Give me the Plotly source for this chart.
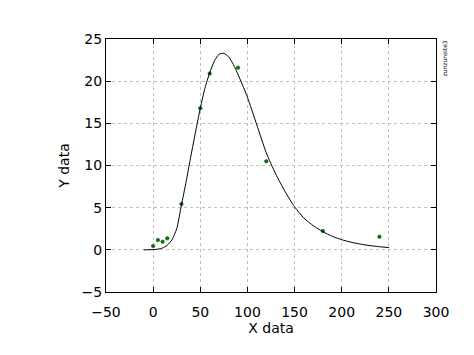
import plotly.graph_objects as go

# Scatter data
data_x = [0, 5, 10, 15, 30, 50, 60, 90, 120, 180, 240]
data_y = [0.45, 1.16, 0.96, 1.36, 5.43, 16.8, 20.9, 21.6, 10.5, 2.23, 1.55]

# Fitted curve
curve_x = [-10, 0, 5, 10, 15, 20, 25, 30, 35, 40, 45, 50, 55, 60, 65, 70, 75, 80, 85, 90, 95, 100,
           110, 120, 130, 140, 150, 160, 170, 180, 190, 200, 210, 220, 230, 240, 250]
curve_y = [0.0, 0.03, 0.08, 0.22, 0.55, 1.2, 2.5, 5.3, 8.1, 11.1, 14.0, 16.8, 19.2, 21.0, 22.4, 23.2, 23.3,
           22.9, 22.0, 20.8, 19.5, 18.1, 14.8, 11.5, 9.0, 6.9, 5.1, 3.75, 2.85, 2.15, 1.6, 1.2, 0.9, 0.68,
           0.5, 0.37, 0.27]

x_ticks = [-50, 0, 50, 100, 150, 200, 250, 300]
y_ticks = [-5, 0, 5, 10, 15, 20, 25]

fig = go.Figure()
fig.add_trace(go.Scatter(x=data_x, y=data_y, mode="markers",
                         marker=dict(color="#008000", size=3.5, line=dict(color="#003000", width=0.5)),
                         showlegend=False, hoverinfo="skip"))
fig.add_trace(go.Scatter(x=curve_x, y=curve_y, mode="lines",
                         line=dict(color="black", width=1, shape="spline", smoothing=0.6),
                         showlegend=False, hoverinfo="skip"))

axis_common = dict(showline=True, linecolor="black", linewidth=1, mirror="allticks",
                   ticks="inside", ticklen=5, tickcolor="black",
                   showgrid=True, gridcolor="#c0c0c0", griddash="dot", gridwidth=1,
                   zeroline=False, tickfont=dict(family="DejaVu Sans", size=14, color="black"))

fig.update_xaxes(range=[-50, 300], tickvals=x_ticks, ticklabelstandoff=7,
                 title=dict(text="X data", font=dict(family="DejaVu Sans", size=14, color="black"), standoff=2),
                 **axis_common)
fig.update_yaxes(range=[-5, 25], tickvals=y_ticks,
                 title=dict(text="Y data", font=dict(family="DejaVu Sans", size=14, color="black"), standoff=8),
                 **axis_common)

fig.add_annotation(text="zunzunsite3", x=1.0, xref="paper", xanchor="left", xshift=2,
                   y=25, yref="y", yanchor="top", yshift=0, textangle=-90, showarrow=False,
                   font=dict(family="DejaVu Sans", size=6, color="black"))

fig.update_layout(width=474, height=355, margin=dict(l=106, r=38, t=39, b=63),
                  paper_bgcolor="white", plot_bgcolor="white",
                  font=dict(family="DejaVu Sans"))

fig.write_html("out.html")
